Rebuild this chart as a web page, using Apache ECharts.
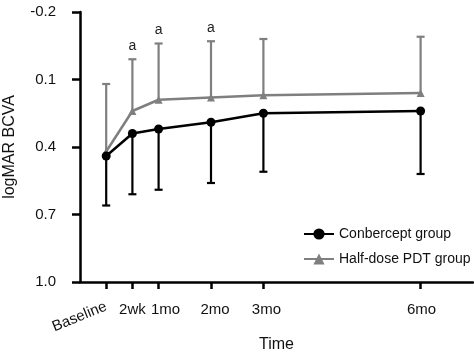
<!DOCTYPE html>
<html>
<head>
<meta charset="utf-8">
<script src="https://cdn.jsdelivr.net/npm/echarts@6/dist/echarts.min.js"></script>
<style>
  html, body { margin: 0; padding: 0; background: #fff; }
  #chart { width: 474px; height: 354px; }
</style>
</head>
<body>
<div id="chart"></div>
<script>
// time points (weeks from baseline; 1mo = 4wk) and their labels
var xVals = [0, 2, 4, 8, 12, 24];
var xLabels = ['Baseline', '2wk', '1mo', '2mo', '3mo', '6mo'];
var yTicks = [-0.2, 0.1, 0.4, 0.7, 1.0];

// logMAR BCVA mean and SD
var conMean = [0.44, 0.34, 0.32, 0.29, 0.25, 0.24];
var conSD = [0.22, 0.27, 0.27, 0.27, 0.26, 0.28];
var pdtMean = [0.42, 0.24, 0.19, 0.18, 0.17, 0.16];
var pdtSD = [0.30, 0.23, 0.25, 0.25, 0.25, 0.25];
var sigMark = ['', 'a', 'a', 'a', '', ''];

var BLACK = '#000000';
var GRAY = '#7f7f7f';
var FONT = 'Liberation Sans, Arial, sans-serif';
// labels nudged right a bit so 2wk / 1mo don't collide
var LABEL_NUDGE = [0, 0, 14, 8, 6, 2];

function pairs(xs, ys) {
    var out = [];
    for (var i = 0; i < xs.length; i++) out.push([xs[i], ys[i]]);
    return out;
}

// [x, mean, end, mark]
function barData(mean, sd, dir, marks) {
    var out = [];
    for (var i = 0; i < xVals.length; i++) {
        out.push([xVals[i], mean[i], mean[i] + dir * sd[i], marks ? marks[i] : '']);
    }
    return out;
}

function errorBar(color) {
    return function (params, api) {
        var x = api.value(0);
        var p1 = api.coord([x, api.value(1)]);
        var p2 = api.coord([x, api.value(2)]);
        var mark = api.value(3);
        var st = { stroke: color, lineWidth: 2.2 };
        var children = [
            { type: 'line', shape: { x1: p1[0], y1: p1[1], x2: p2[0], y2: p2[1] }, style: st },
            { type: 'line', shape: { x1: p2[0] - 4, y1: p2[1], x2: p2[0] + 4, y2: p2[1] }, style: st }
        ];
        if (mark) {
            children.push({
                type: 'text',
                style: {
                    text: mark, x: p2[0], y: p2[1] - 6,
                    align: 'center', verticalAlign: 'bottom',
                    fill: '#222', font: '14px ' + FONT
                }
            });
        }
        return { type: 'group', children: children };
    };
}

function xName(v) {
    return xLabels[xVals.indexOf(v)];
}

var rich = {};
for (var i = 0; i < xVals.length; i++) {
    rich['n' + i] = { fontSize: 15, color: '#111', fontFamily: FONT, padding: [0, 0, 0, LABEL_NUDGE[i]] };
}

var chart = echarts.init(document.getElementById('chart'));

var option = {
    backgroundColor: '#fff',
    animation: false,
    textStyle: { fontFamily: FONT },
    grid: { left: 80, right: 1, top: 12, bottom: 72, outerBoundsMode: 'none', containLabel: false },
    legend: {
        data: ['Conbercept group', 'Half-dose PDT group'],
        orient: 'vertical',
        left: 298,
        top: 222,
        itemWidth: 30,
        itemHeight: 14,
        itemGap: 11,
        textStyle: { fontSize: 14, color: '#111', fontFamily: FONT }
    },
    xAxis: [{
        type: 'value',
        min: -2,
        max: 28,
        name: 'Time',
        nameLocation: 'middle',
        nameGap: 55,
        nameTextStyle: { fontSize: 16, color: '#111' },
        axisLine: { onZero: false, lineStyle: { color: BLACK, width: 2.5 } },
        axisTick: { show: true, length: 7, customValues: xVals, lineStyle: { color: BLACK, width: 2.5 } },
        axisLabel: {
            customValues: xVals.slice(1),
            interval: 0,
            hideOverlap: false,
            margin: 20,
            fontSize: 15,
            color: '#111',
            rich: rich,
            formatter: function (v) {
                var i = xVals.indexOf(v);
                return '{n' + i + '|' + xLabels[i] + '}';
            }
        },
        splitLine: { show: false }
    }, {
        type: 'value',
        min: -2,
        max: 28,
        position: 'bottom',
        axisLine: { show: false, onZero: false },
        axisTick: { show: false },
        axisLabel: {
            customValues: [xVals[0]],
            rotate: 22,
            margin: 24,
            fontSize: 15,
            color: '#111',
            formatter: xName
        },
        splitLine: { show: false }
    }],
    yAxis: {
        type: 'value',
        inverse: true,
        min: -0.2,
        max: 1.0,
        name: 'logMAR BCVA',
        nameLocation: 'middle',
        nameGap: 62,
        nameTextStyle: { fontSize: 16, color: '#111' },
        axisLine: { show: true, onZero: false, lineStyle: { color: BLACK, width: 2.5 } },
        axisTick: { show: true, length: 8, customValues: yTicks, lineStyle: { color: BLACK, width: 2.5 } },
        axisLabel: {
            customValues: yTicks,
            margin: 24,
            fontSize: 15,
            color: '#111',
            formatter: function (v) { return v.toFixed(1); }
        },
        splitLine: { show: false }
    },
    series: [{
        name: 'pdtErr',
        type: 'custom',
        renderItem: errorBar(GRAY),
        data: barData(pdtMean, pdtSD, -1, sigMark),
        z: 2
    }, {
        name: 'conErr',
        type: 'custom',
        renderItem: errorBar(BLACK),
        data: barData(conMean, conSD, 1),
        z: 2
    }, {
        name: 'Half-dose PDT group',
        type: 'line',
        data: pairs(xVals, pdtMean),
        symbol: 'triangle',
        symbolSize: 8,
        color: GRAY,
        lineStyle: { color: GRAY, width: 2.5 },
        itemStyle: { color: GRAY },
        z: 3
    }, {
        name: 'Conbercept group',
        type: 'line',
        data: pairs(xVals, conMean),
        symbol: 'circle',
        symbolSize: 9,
        color: BLACK,
        lineStyle: { color: BLACK, width: 2.5 },
        itemStyle: { color: BLACK },
        z: 4
    }]
};

chart.setOption(option);
</script>
</body>
</html>
